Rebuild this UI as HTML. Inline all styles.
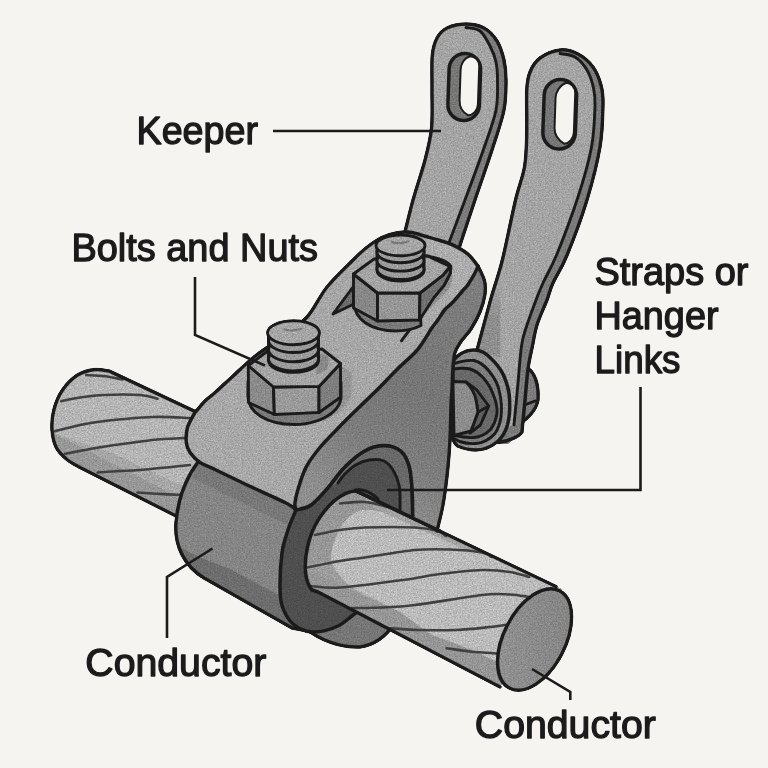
<!DOCTYPE html>
<html>
<head>
<meta charset="utf-8">
<title>Suspension Clamp</title>
<style>
  html, body { margin: 0; padding: 0; background: #f6f4f0; }
  body { width: 768px; height: 768px; overflow: hidden; font-family: "Liberation Sans", sans-serif; }
  svg { display: block; }
  .o { stroke: #1b1b1b; stroke-width: 3.5; stroke-linejoin: round; stroke-linecap: round; }
  .i { stroke: #1b1b1b; stroke-width: 2.9; stroke-linejoin: round; stroke-linecap: round; }
  .s { stroke: #404040; stroke-width: 2.6; stroke-linecap: round; }
  .lead { stroke: #1b1b1b; stroke-width: 2.6; fill: none; stroke-linejoin: miter; }
  text { font-family: "Liberation Sans", sans-serif; font-size: 38.5px; fill: #1b1b1b; stroke: #1b1b1b; stroke-width: 1.3; stroke-linejoin: round; }
</style>
</head>
<body>
<svg width="768" height="768" viewBox="0 0 768 768">
<rect width="768" height="768" fill="#f6f4f0"/>
<defs><filter id="grain" x="0" y="0" width="768" height="768" filterUnits="userSpaceOnUse" color-interpolation-filters="sRGB">
  <feTurbulence type="fractalNoise" baseFrequency="0.75" numOctaves="2" seed="11" result="t"/>
  <feColorMatrix in="t" type="matrix" values="0.5 0.5 0 0 0  0.5 0.5 0 0 0  0.5 0.5 0 0 0  0 0 0 0 1" result="n"/>
  <feComposite in="SourceGraphic" in2="n" operator="arithmetic" k1="0.7" k2="0.65" k3="0" k4="0" result="c"/>
  <feComposite in="c" in2="SourceAlpha" operator="in"/>
</filter></defs>
<g id="art" filter="url(#grain)">
<g id="strapL">
<path fill="#7c7c7c" d="M400.0,252.0 C402.2,243.3 408.8,215.3 413.0,200.0 C417.2,184.7 421.9,172.0 425.0,160.0 C428.1,148.0 430.3,139.7 431.5,128.0 C432.7,116.3 431.9,102.2 432.0,90.0 C432.1,77.8 431.5,63.7 432.3,55.0 C433.1,46.3 434.6,42.5 437.0,38.0 C439.4,33.5 442.2,30.3 447.0,28.0 C451.8,25.7 459.8,24.0 466.0,24.0 C472.2,24.0 478.8,25.2 484.0,28.0 C489.2,30.8 493.7,35.7 497.0,41.0 C500.3,46.3 502.5,53.5 504.0,60.0 C505.5,66.5 506.0,71.7 506.0,80.0 C506.0,88.3 506.2,98.8 504.0,110.0 C501.8,121.2 497.8,132.0 493.0,147.0 C488.2,162.0 480.2,184.5 475.0,200.0 C469.8,215.5 465.0,229.7 461.7,240.0 C458.4,250.3 456.1,258.3 455.0,262.0 Z"/>
<path fill="#a4a4a5" d="M400.0,252.0 C402.2,243.3 408.8,215.3 413.0,200.0 C417.2,184.7 421.9,172.0 425.0,160.0 C428.1,148.0 430.3,139.7 431.5,128.0 C432.7,116.3 431.9,102.2 432.0,90.0 C432.1,77.8 431.5,63.7 432.3,55.0 C433.1,46.3 434.6,42.5 437.0,38.0 C439.4,33.5 442.2,30.3 447.0,28.0 C451.8,25.7 462.8,24.7 466.0,24.0 C466.0,24.6 463.7,26.3 466.0,27.5 C468.3,28.7 476.0,27.9 480.0,31.0 C484.0,34.1 487.3,40.8 490.0,46.0 C492.7,51.2 494.8,56.3 496.0,62.0 C497.2,67.7 497.5,72.0 497.5,80.0 C497.5,88.0 498.2,98.7 496.0,110.0 C493.8,121.3 489.2,133.0 484.0,148.0 C478.8,163.0 470.7,184.7 465.0,200.0 C459.3,215.3 453.8,229.7 450.0,240.0 C446.2,250.3 443.3,258.3 442.0,262.0 Z"/>
<path class="i" fill="none" d="M466.0,27.5 C468.3,28.1 476.0,27.9 480.0,31.0 C484.0,34.1 487.3,40.8 490.0,46.0 C492.7,51.2 494.8,56.3 496.0,62.0 C497.2,67.7 497.5,72.0 497.5,80.0 C497.5,88.0 498.2,98.7 496.0,110.0 C493.8,121.3 489.2,133.0 484.0,148.0 C478.8,163.0 470.7,184.7 465.0,200.0 C459.3,215.3 453.8,229.7 450.0,240.0 C446.2,250.3 443.3,258.3 442.0,262.0"/>
<path class="o" fill="none" d="M400.0,252.0 C402.2,243.3 408.8,215.3 413.0,200.0 C417.2,184.7 421.9,172.0 425.0,160.0 C428.1,148.0 430.3,139.7 431.5,128.0 C432.7,116.3 431.9,102.2 432.0,90.0 C432.1,77.8 431.5,63.7 432.3,55.0 C433.1,46.3 434.6,42.5 437.0,38.0 C439.4,33.5 442.2,30.3 447.0,28.0 C451.8,25.7 459.8,24.0 466.0,24.0 C472.2,24.0 478.8,25.2 484.0,28.0 C489.2,30.8 493.7,35.7 497.0,41.0 C500.3,46.3 502.5,53.5 504.0,60.0 C505.5,66.5 506.0,71.7 506.0,80.0 C506.0,88.3 506.2,98.8 504.0,110.0 C501.8,121.2 497.8,132.0 493.0,147.0 C488.2,162.0 480.2,184.5 475.0,200.0 C469.8,215.5 465.0,229.7 461.7,240.0 C458.4,250.3 456.1,258.3 455.0,262.0"/>
<g transform="rotate(2 464 87)">
  <rect class="o" x="448.5" y="53.5" width="31.5" height="67" rx="15.7" fill="#777" stroke-width="3"/>
</g>
</g>
<g id="strapR">
<path class="o" fill="#7d7d7d" d="M527,368 C535,372 539,385 538,400 C536,412 526,421 511,429 L511,380 Z"/>
<path class="i" fill="none" d="M522,406 L535,401"/>
<path fill="#7c7c7c" d="M477.0,350.0 C479.2,341.7 487.1,312.2 490.5,300.0 C493.9,287.8 495.4,284.3 497.5,277.0 C499.6,269.7 500.3,268.8 503.3,256.0 C506.3,243.2 512.0,214.9 515.5,200.0 C519.0,185.1 522.6,177.9 524.5,166.7 C526.4,155.5 526.3,145.8 526.7,133.0 C527.1,120.2 526.2,100.2 526.7,90.0 C527.2,79.8 527.8,77.3 530.0,72.0 C532.2,66.7 535.0,61.7 540.0,58.0 C545.0,54.3 553.7,50.7 560.0,50.0 C566.3,49.3 572.5,51.2 578.0,54.0 C583.5,56.8 589.2,61.8 593.0,67.0 C596.8,72.2 599.3,78.8 601.0,85.0 C602.7,91.2 603.2,93.7 603.0,104.0 C602.8,114.3 602.7,131.0 600.0,147.0 C597.3,163.0 592.5,181.8 587.0,200.0 C581.5,218.2 572.4,242.2 566.7,256.0 C561.0,269.8 556.3,275.7 553.0,283.0 C549.7,290.3 549.7,293.0 547.0,300.0 C544.3,307.0 539.4,317.3 537.0,325.0 C534.6,332.7 534.0,338.7 532.5,346.0 C531.0,353.3 529.2,360.0 528.0,369.0 C526.8,378.0 526.0,389.5 525.0,400.0 C524.0,410.5 522.5,426.7 522.0,432.0 L508,444 L470,440 Z"/>
<path fill="#a4a4a5" d="M477.0,350.0 C479.2,341.7 487.1,312.2 490.5,300.0 C493.9,287.8 495.4,284.3 497.5,277.0 C499.6,269.7 500.3,268.8 503.3,256.0 C506.3,243.2 512.0,214.9 515.5,200.0 C519.0,185.1 522.6,177.9 524.5,166.7 C526.4,155.5 526.3,145.8 526.7,133.0 C527.1,120.2 526.2,100.2 526.7,90.0 C527.2,79.8 527.8,77.3 530.0,72.0 C532.2,66.7 535.0,61.7 540.0,58.0 C545.0,54.3 556.7,51.3 560.0,50.0 C560.0,50.6 557.5,52.3 560.0,53.5 C562.5,54.7 570.5,54.2 575.0,57.0 C579.5,59.8 583.9,64.8 587.0,70.0 C590.1,75.2 592.2,82.0 593.5,88.0 C594.8,94.0 595.3,96.2 595.0,106.0 C594.7,115.8 594.3,131.8 591.5,147.0 C588.7,162.2 583.8,179.2 578.0,197.0 C572.2,214.8 562.8,239.7 557.0,254.0 C551.2,268.3 546.5,275.3 543.0,283.0 C539.5,290.7 538.8,292.5 536.0,300.0 C533.2,307.5 528.4,320.3 526.0,328.0 C523.6,335.7 522.8,336.8 521.5,346.0 C520.2,355.2 519.2,369.8 518.0,383.0 C516.8,396.2 514.7,418.0 514.0,425.0 L470,440 Z"/>
<defs><linearGradient id="stripG" x1="0" y1="280" x2="0" y2="318" gradientUnits="userSpaceOnUse"><stop offset="0" stop-color="#8e8e8e" stop-opacity="0"/><stop offset="1" stop-color="#8e8e8e" stop-opacity="1"/></linearGradient></defs>
<path fill="url(#stripG)" d="M496,280 L500,280 L500.5,358 L477,350 L490.5,300 Z"/>
<path class="i" fill="none" d="M560.0,53.5 C562.5,54.1 570.5,54.2 575.0,57.0 C579.5,59.8 583.9,64.8 587.0,70.0 C590.1,75.2 592.2,82.0 593.5,88.0 C594.8,94.0 595.3,96.2 595.0,106.0 C594.7,115.8 594.3,131.8 591.5,147.0 C588.7,162.2 583.8,179.2 578.0,197.0 C572.2,214.8 562.8,239.7 557.0,254.0 C551.2,268.3 546.5,275.3 543.0,283.0 C539.5,290.7 538.8,292.5 536.0,300.0 C533.2,307.5 528.4,320.3 526.0,328.0 C523.6,335.7 522.8,336.8 521.5,346.0 C520.2,355.2 519.2,369.8 518.0,383.0 C516.8,396.2 514.7,418.0 514.0,425.0"/>
<path class="o" fill="none" d="M477.0,350.0 C479.2,341.7 487.1,312.2 490.5,300.0 C493.9,287.8 495.4,284.3 497.5,277.0 C499.6,269.7 500.3,268.8 503.3,256.0 C506.3,243.2 512.0,214.9 515.5,200.0 C519.0,185.1 522.6,177.9 524.5,166.7 C526.4,155.5 526.3,145.8 526.7,133.0 C527.1,120.2 526.2,100.2 526.7,90.0 C527.2,79.8 527.8,77.3 530.0,72.0 C532.2,66.7 535.0,61.7 540.0,58.0 C545.0,54.3 553.7,50.7 560.0,50.0 C566.3,49.3 572.5,51.2 578.0,54.0 C583.5,56.8 589.2,61.8 593.0,67.0 C596.8,72.2 599.3,78.8 601.0,85.0 C602.7,91.2 603.2,93.7 603.0,104.0 C602.8,114.3 602.7,131.0 600.0,147.0 C597.3,163.0 592.5,181.8 587.0,200.0 C581.5,218.2 572.4,242.2 566.7,256.0 C561.0,269.8 556.3,275.7 553.0,283.0 C549.7,290.3 549.7,293.0 547.0,300.0 C544.3,307.0 539.4,317.3 537.0,325.0 C534.6,332.7 534.0,338.7 532.5,346.0 C531.0,353.3 529.2,360.0 528.0,369.0 C526.8,378.0 526.0,389.5 525.0,400.0 C524.0,410.5 522.5,426.7 522.0,432.0 C520,436 510,441 498.5,442.5"/>
<g transform="rotate(2 560 114)">
  <rect class="o" x="543.5" y="79.5" width="32.5" height="69.5" rx="16.2" fill="#777" stroke-width="3"/>
</g>
</g>
<g id="pin">
  <path class="o" fill="#8f8f8f" d="M452,364 C455,356 464,350 474,350 C482,350 487,354 491,358.5 C497,364 501,370 503.5,375 C507,383 509.5,392 509.6,400 C510,410 509.5,418 507.5,425 C505,433 502,438 497,442 C491,447 484,450 476,450 C468,450 462,448 457.5,446 C454,443 452,439 451,433 Z"/>
  <path class="i" fill="#7c7c7c" stroke-width="2.5" d="M453,364 C461,361 468,360 474,360.5 C480,362 485,366 489,371 C494,377 498,384 499.5,392 C501.5,401 502,409 501,417 C500,424 498,429 495,433.5 C490,439 484,443 476,443.5 C469,444 464,443 459.5,441.5 L453,438 Z"/>
  <path class="i" fill="#696969" stroke-width="2.5" d="M453,369 C460,368 466,368 470,369 C475,370.5 479,373.5 482.5,377 C487,382 491,388 493,394 C496,401 497.5,407 497,413 C496,420 494,425 490.5,429.5 C486,434 481,437 474,437.5 C467,438 461,437 455,435.5 Z"/>
  <path class="i" fill="#5f5f5f" d="M466,382 L476.5,389.6 L488.75,406 L480.4,425 L470,433 L471,431 L478,412 L476,400 Z"/>
  <path class="i" fill="#8c8c8c" d="M453,381.5 L466,382 C472,388 475,394 476,400 L478,412 L471,431 L454,435.5 Z"/>
  <path class="i" fill="none" d="M478,412 L488,406.5"/>
</g>
<g id="condL">
<defs><clipPath id="cL"><path d="M195,411.3 L110,371.3 C107.5,371.0 100.4,368.9 95.0,369.5 C89.6,370.1 82.9,371.6 77.5,375.0 C72.1,378.4 66.5,384.2 62.5,390.0 C58.5,395.8 55.5,403.3 53.8,410.0 C52.0,416.7 51.6,423.8 52.0,430.0 C52.4,436.2 53.7,442.5 56.2,447.5 C58.8,452.5 63.5,456.7 67.5,460.0 C71.5,463.3 77.9,466.2 80.0,467.5 L176.3,516.3 L190,522 L215,420 Z"/></clipPath></defs>
<path fill="#b5b5b5" d="M195,411.3 L110,371.3 C107.5,371.0 100.4,368.9 95.0,369.5 C89.6,370.1 82.9,371.6 77.5,375.0 C72.1,378.4 66.5,384.2 62.5,390.0 C58.5,395.8 55.5,403.3 53.8,410.0 C52.0,416.7 51.6,423.8 52.0,430.0 C52.4,436.2 53.7,442.5 56.2,447.5 C58.8,452.5 63.5,456.7 67.5,460.0 C71.5,463.3 77.9,466.2 80.0,467.5 L176.3,516.3 L190,522 L215,420 Z"/>
<g clip-path="url(#cL)">
<path fill="#979797" d="M40,425 L55,433.75 L180,497.5 L200,500 L200,540 L40,480 Z"/>
<path fill="#a6a6a6" d="M55,433.75 L180,497.5 L186,488 L110,452 Z"/>
<path class="s" fill="none" d="M86.2,375.0 C89.4,375.2 99.0,375.5 105.0,376.2 C111.0,377.0 119.6,379.0 122.5,379.5"/>
<path class="s" fill="none" d="M61.2,401.2 C64.4,400.6 73.1,398.5 80.0,397.5 C86.9,396.5 92.5,395.4 102.5,395.0 C112.5,394.6 130.8,394.4 140.0,395.0 C149.2,395.6 154.6,398.1 157.5,398.8"/>
<path class="s" fill="none" d="M55.0,431.2 C59.2,430.2 72.1,426.7 80.0,425.0 C87.9,423.3 90.4,422.6 102.5,421.2 C114.6,419.9 137.9,417.5 152.5,417.0 C167.1,416.5 183.8,417.8 190.0,418.0"/>
<path class="s" fill="none" d="M65.0,453.8 C69.2,453.0 81.7,450.5 90.0,449.0 C98.3,447.5 104.6,446.5 115.0,445.0 C125.4,443.5 140.8,441.2 152.5,440.0 C164.2,438.8 179.6,438.3 185.0,438.0"/>
<path class="s" fill="none" d="M97.5,472.5 C101.2,472.2 112.9,471.4 120.0,471.0 C127.1,470.6 128.3,471.0 140.0,470.0 C151.7,469.0 181.7,465.8 190.0,465.0"/>
<path class="s" fill="none" d="M137.5,492.5 C141.2,492.8 152.6,493.6 160.0,494.0 C167.4,494.4 178.3,494.8 182.0,495.0"/>
</g>
<path class="o" fill="none" d="M197,412.3 L110,371.3 C107.5,371.0 100.4,368.9 95.0,369.5 C89.6,370.1 82.9,371.6 77.5,375.0 C72.1,378.4 66.5,384.2 62.5,390.0 C58.5,395.8 55.5,403.3 53.8,410.0 C52.0,416.7 51.6,423.8 52.0,430.0 C52.4,436.2 53.7,442.5 56.2,447.5 C58.8,452.5 63.5,456.7 67.5,460.0 C71.5,463.3 77.9,466.2 80.0,467.5 L178,517"/>
</g>
<path class="o" fill="#767676" d="M305,628 C320,640 340,648 360,647 C375,645 386,636 394,624 L360,596 Z"/>
<g id="body">
  <path fill="#858585" d="M198,462 C186,478 178,500 176,522 C174,545 184,566 204,578 L292,628 L312,632 L300,510 Z"/>
  <path fill="#787878" d="M198,462 L300,508 L298,530 L192,478 Z"/>
  <path fill="#6d6d6d" d="M178,545 C195,558 215,562 232,570 L292,602 L300,630 L292,628 L204,578 C190,570 182,558 178,545 Z"/>
  <path class="o" fill="none" d="M198,462 C186,478 178,500 176,522 C174,545 184,566 204,578 L292,628 L312,632"/>
</g>
<g id="ring">
<path fill="#4f4f4f" d="M296.0,510.0 C298.5,509.2 305.7,508.7 311.0,505.0 C316.3,501.3 322.1,494.2 327.7,488.0 C333.2,481.8 338.1,473.7 344.3,467.5 C350.5,461.3 358.4,454.4 365.0,450.8 C371.6,447.2 378.1,445.6 384.0,445.6 C389.9,445.6 396.4,447.5 400.6,450.8 C404.8,454.1 407.1,459.2 409.0,465.4 C410.9,471.6 411.4,479.6 412.0,488.0 C412.6,496.4 412.6,511.3 412.7,516.0 C410.6,526.7 409.3,564.0 400.0,580.0 C390.7,596.0 367.5,604.2 357.0,612.0 C346.5,619.8 344.5,623.2 337.0,626.5 C329.5,629.8 319.3,632.4 312.0,632.0 C304.7,631.6 297.9,628.2 293.0,624.0 C288.1,619.8 284.7,613.0 282.5,607.0 C280.3,601.0 280.1,597.0 280.0,588.0 C279.9,579.0 280.7,562.7 282.0,553.0 C283.3,543.3 285.7,537.2 288.0,530.0 C290.3,522.8 294.7,513.3 296.0,510.0 Z"/>
<path fill="#696969" d="M327.7,488.0 C330.5,484.6 338.1,473.7 344.3,467.5 C350.5,461.3 358.4,454.4 365.0,450.8 C371.6,447.2 378.1,445.6 384.0,445.6 C389.9,445.6 396.4,447.5 400.6,450.8 C404.8,454.1 407.1,459.2 409.0,465.4 C410.9,471.6 411.4,479.6 412.0,488.0 C412.6,496.4 412.6,511.3 412.7,516.0 L400,511 C399.9,507.2 400.5,494.6 399.5,488.0 C398.5,481.4 396.6,476.2 394.0,471.7 C391.4,467.2 388.2,462.9 384.0,461.0 C379.8,459.1 373.9,459.3 369.0,460.0 C364.1,460.7 358.9,462.9 354.8,465.4 C350.6,467.9 346.8,472.1 344.0,475.0 C341.2,477.9 339.0,481.7 338.0,483.0 Z"/>
<path class="i" fill="none" d="M338.0,483.0 C339.0,481.7 341.2,477.9 344.0,475.0 C346.8,472.1 350.6,467.9 354.8,465.4 C358.9,462.9 364.1,460.7 369.0,460.0 C373.9,459.3 379.8,459.1 384.0,461.0 C388.2,462.9 391.4,467.2 394.0,471.7 C396.6,476.2 398.5,481.4 399.5,488.0 C400.5,494.6 399.9,507.2 400.0,511.0"/>
<path class="i" fill="none" d="M355,490 C362,489 370,491 378,499" stroke-width="2.2"/>
<path class="o" fill="none" d="M400.0,580.0 C392.8,585.3 367.5,604.2 357.0,612.0 C346.5,619.8 344.5,623.2 337.0,626.5 C329.5,629.8 319.3,632.4 312.0,632.0 C304.7,631.6 297.9,628.2 293.0,624.0 C288.1,619.8 284.7,613.0 282.5,607.0 C280.3,601.0 280.1,597.0 280.0,588.0 C279.9,579.0 280.7,562.7 282.0,553.0 C283.3,543.3 285.7,537.2 288.0,530.0 C290.3,522.8 294.7,513.3 296.0,510.0"/>
<path class="o" fill="none" d="M296.0,510.0 C298.5,509.2 305.7,508.7 311.0,505.0 C316.3,501.3 322.1,494.2 327.7,488.0 C333.2,481.8 338.1,473.7 344.3,467.5 C350.5,461.3 358.4,454.4 365.0,450.8 C371.6,447.2 378.1,445.6 384.0,445.6 C389.9,445.6 396.4,447.5 400.6,450.8 C404.8,454.1 407.1,459.2 409.0,465.4 C410.9,471.6 411.4,479.6 412.0,488.0 C412.6,496.4 412.6,511.3 412.7,516.0"/>
</g>
<g id="condR">
<defs><clipPath id="cR"><path d="M356,491 C348,491 340,496 334,501 C322,512 312,528 308,545 C303,565 305,582 312,590 L318,592 L500,687 L562,589 Z"/></clipPath>
<linearGradient id="capG" x1="1" y1="0" x2="0" y2="1"><stop offset="0" stop-color="#828282"/><stop offset="1" stop-color="#939393"/></linearGradient></defs>
<path fill="#bbbbbb" d="M356,491 C348,491 340,496 334,501 C322,512 312,528 308,545 C303,565 305,582 312,590 L318,592 L500,687 L562,589 Z"/>
<g clip-path="url(#cR)">
  <path fill="#979797" d="M300,480 L370,480 L440,530 L420,530 C400,518 380,508 362,510 C345,514 334,535 331,555 C330,575 338,588 350,598 L300,600 Z"/>
  <path fill="#a2a2a2" d="M356,489 L480,548 L470,552 L372,507 Z"/>
  <path fill="#969696" d="M300,566 L400,612 L430,634 L470,649 L497,662 L515,700 L300,600 Z"/>
  <path fill="#9d9d9d" d="M330,560 C340,580 352,590 372,598 L400,612 L300,566 Z"/>
  <path class="s" fill="none" d="M340.0,503.5 C344.2,503.2 356.7,501.3 365.0,502.0 C373.3,502.7 385.8,506.6 390.0,507.5"/>
  <path class="s" fill="none" d="M315.0,535.0 C319.2,534.2 331.7,531.2 340.0,530.0 C348.3,528.8 352.5,527.9 365.0,527.5 C377.5,527.1 402.9,526.9 415.0,527.5 C427.1,528.1 432.3,529.6 437.5,531.0 C442.7,532.4 444.6,535.2 446.0,536.0"/>
  <path class="s" fill="none" d="M307.5,567.5 C312.9,566.4 330.4,562.7 340.0,561.0 C349.6,559.3 352.5,559.3 365.0,557.5 C377.5,555.7 400.8,551.3 415.0,550.0 C429.2,548.7 438.8,549.1 450.0,549.5 C461.2,549.9 475.0,551.2 482.0,552.5 C489.0,553.8 490.3,556.2 492.0,557.0"/>
  <path class="s" fill="none" d="M310.0,586.0 C315.0,586.2 324.6,588.5 340.0,587.5 C355.4,586.5 385.8,582.2 402.5,580.0 C419.2,577.8 426.8,575.7 440.0,574.0 C453.2,572.3 470.3,570.3 482.0,570.0 C493.7,569.7 502.2,570.8 510.0,572.0 C517.8,573.2 525.8,576.2 529.0,577.0"/>
  <path class="s" fill="none" d="M352.0,608.0 C356.7,607.9 369.5,608.0 380.0,607.5 C390.5,607.0 398.0,607.1 415.0,605.0 C432.0,602.9 466.2,596.8 482.0,595.0 C497.8,593.2 502.2,594.2 510.0,594.5 C517.8,594.8 525.8,596.6 529.0,597.0"/>
  <path class="s" fill="none" d="M390.0,628.3 C395.0,628.6 408.9,629.7 420.0,630.0 C431.1,630.3 445.0,630.5 456.7,630.0 C468.4,629.5 481.3,627.9 490.0,627.0 C498.7,626.1 505.8,624.9 509.0,624.5"/>
  <path class="s" fill="none" d="M446.7,648.3 C450.6,648.8 461.6,650.6 470.0,651.5 C478.4,652.4 492.5,653.2 497.0,653.5"/>
</g>
<path class="o" fill="none" d="M312,590 C305,582 303,565 308,545 C312,528 322,512 334,501 C340,496 348,491 356,491 L556,586.5 M312,590 L318,592 L500,687"/>
<ellipse class="o" cx="534.6" cy="639.5" rx="30.8" ry="54.7" transform="rotate(27 534.6 639.5)" fill="url(#capG)"/>
</g>
<g id="keeper">
<defs>
  <linearGradient id="sideG" x1="470" y1="270" x2="350" y2="500" gradientUnits="userSpaceOnUse">
    <stop offset="0" stop-color="#7e7e7e"/><stop offset="0.5" stop-color="#767676"/><stop offset="0.75" stop-color="#7c7c7c"/><stop offset="1" stop-color="#8d8d8d"/>
  </linearGradient>
  <linearGradient id="topG" x1="230" y1="420" x2="470" y2="300" gradientUnits="userSpaceOnUse">
    <stop offset="0" stop-color="#a8a8a8"/><stop offset="0.75" stop-color="#a6a6a6"/><stop offset="1" stop-color="#adadad"/>
  </linearGradient>
</defs>
<path fill="url(#sideG)" d="M478.0,266.0 C479.1,268.5 483.5,276.3 484.6,281.2 C485.7,286.1 485.6,290.4 484.8,295.5 C484.0,300.6 482.3,306.4 480.0,312.0 C477.7,317.6 474.2,324.0 471.0,329.0 C467.8,334.0 463.4,338.1 460.7,342.0 C458.0,345.9 456.3,348.2 455.0,352.5 C453.7,356.8 453.5,361.8 453.0,368.0 C452.5,374.2 452.3,383.8 452.0,390.0 C451.7,396.2 451.3,396.7 451.0,405.0 C450.7,413.3 450.6,428.8 450.0,440.0 C449.4,451.2 448.7,461.2 447.5,472.0 C446.3,482.8 444.8,495.2 443.0,505.0 C441.2,514.8 438.0,526.7 437.0,531.0 L412.7,518 C412.6,511.3 412.6,496.4 412.0,488.0 C411.4,479.6 410.9,471.6 409.0,465.4 C407.1,459.2 404.8,454.1 400.6,450.8 C396.4,447.5 389.9,445.6 384.0,445.6 C378.1,445.6 371.6,447.2 365.0,450.8 C358.4,454.4 350.5,461.3 344.3,467.5 C338.1,473.7 333.2,481.8 327.7,488.0 C322.1,494.2 316.3,501.3 311.0,505.0 C305.7,508.7 298.5,509.2 296.0,510.0 C295.8,508.8 294.5,507.0 295.0,503.0 C295.5,499.0 297.1,492.1 299.0,486.0 C300.9,479.9 303.1,472.7 306.5,466.4 C309.9,460.1 314.1,454.5 319.5,448.0 C324.9,441.5 332.5,434.0 339.0,427.3 C345.5,420.6 351.9,414.4 358.6,407.8 C365.3,401.2 372.6,394.4 379.0,388.0 C385.4,381.6 391.0,375.3 397.0,369.4 C403.0,363.5 410.7,357.1 415.0,352.5 C419.3,347.9 420.2,346.1 423.0,342.0 C425.8,337.9 429.5,331.5 432.0,327.8 C434.5,324.1 435.6,323.1 437.8,320.0 C440.0,316.9 442.6,312.3 445.0,309.5 C447.4,306.7 448.9,306.2 452.0,303.0 C455.1,299.8 460.7,293.0 463.3,290.0 C465.9,287.0 465.7,288.0 467.7,285.0 C469.7,282.0 473.8,275.2 475.5,272.0 C477.2,268.8 477.6,267.0 478.0,266.0 Z"/>
<path class="o" fill="none" d="M478.0,266.0 C479.1,268.5 483.5,276.3 484.6,281.2 C485.7,286.1 485.6,290.4 484.8,295.5 C484.0,300.6 482.3,306.4 480.0,312.0 C477.7,317.6 474.2,324.0 471.0,329.0 C467.8,334.0 463.4,338.1 460.7,342.0 C458.0,345.9 456.3,348.2 455.0,352.5 C453.7,356.8 453.5,361.8 453.0,368.0 C452.5,374.2 452.3,383.8 452.0,390.0 C451.7,396.2 451.3,396.7 451.0,405.0 C450.7,413.3 450.6,428.8 450.0,440.0 C449.4,451.2 448.7,461.2 447.5,472.0 C446.3,482.8 444.8,495.2 443.0,505.0 C441.2,514.8 438.0,526.7 437.0,531.0"/>
<path class="o" fill="url(#topG)" d="M195.0,412.5 C196.7,410.6 201.7,404.3 205.0,401.0 C208.3,397.7 210.5,396.5 215.0,392.5 C219.5,388.5 225.5,382.9 232.0,377.0 C238.5,371.1 245.7,363.7 254.0,357.0 C262.3,350.3 273.2,343.7 282.0,337.0 C290.8,330.3 299.5,325.3 307.0,317.0 C314.5,308.7 319.3,296.5 327.0,287.0 C334.7,277.5 346.5,266.5 353.0,260.0 C359.5,253.5 361.2,251.8 366.0,248.0 C370.8,244.2 376.7,240.0 381.7,237.5 C386.7,235.0 391.3,233.9 396.0,233.0 C400.7,232.1 405.0,231.7 410.0,232.3 C415.0,232.9 421.0,235.1 426.0,236.5 C431.0,237.9 435.7,239.1 440.0,240.5 C444.3,241.9 447.4,242.5 452.0,244.7 C456.6,246.9 463.4,250.3 467.7,253.9 C472.0,257.4 476.3,264.0 478.0,266.0 C477.6,267.0 477.2,268.8 475.5,272.0 C473.8,275.2 469.7,282.0 467.7,285.0 C465.7,288.0 465.9,287.0 463.3,290.0 C460.7,293.0 455.1,299.8 452.0,303.0 C448.9,306.2 447.4,306.7 445.0,309.5 C442.6,312.3 440.0,316.9 437.8,320.0 C435.6,323.1 434.5,324.1 432.0,327.8 C429.5,331.5 425.8,337.9 423.0,342.0 C420.2,346.1 419.3,347.9 415.0,352.5 C410.7,357.1 403.0,363.5 397.0,369.4 C391.0,375.3 385.4,381.6 379.0,388.0 C372.6,394.4 365.3,401.2 358.6,407.8 C351.9,414.4 345.5,420.6 339.0,427.3 C332.5,434.0 324.9,441.5 319.5,448.0 C314.1,454.5 309.9,460.1 306.5,466.4 C303.1,472.7 300.9,479.9 299.0,486.0 C297.1,492.1 295.5,499.0 295.0,503.0 C294.5,507.0 295.8,508.8 296.0,510.0 C294.3,508.8 294.5,507.3 286.0,503.0 C277.5,498.7 256.8,489.6 245.0,484.0 C233.2,478.4 222.5,473.1 215.0,469.5 C207.5,465.9 204.2,465.3 200.0,462.5 C195.8,459.7 192.3,455.8 190.0,452.5 C187.7,449.2 186.7,446.7 186.3,442.5 C185.9,438.3 186.1,432.5 187.5,427.5 C188.9,422.5 193.8,415.0 195.0,412.5 Z"/>
<path fill="#8f8f8f" d="M450.5,271 C454,276 453,282 448,290 C442,297 434,304 426,312 L423,310.8 C432,300 440,290 444,285 C448,278 450,275 450.5,271 Z"/>
<path class="i" fill="#6b6b6b" d="M333,314 L353,287 L354,304 Z"/>
<path class="i" fill="none" d="M426.0,255.8 C428.2,256.3 435.5,257.9 439.0,259.0 C442.5,260.1 445.0,261.2 447.0,262.5 C449.0,263.8 450.3,264.8 450.8,266.5 C451.3,268.2 451.1,269.4 450.0,272.5 C448.9,275.6 446.7,280.9 444.0,285.0 C441.3,289.1 437.5,292.7 434.0,297.0 C430.5,301.3 426.8,305.7 423.0,310.8 C419.2,315.9 414.6,322.8 411.0,327.8 C407.4,332.8 403.1,338.6 401.5,340.8"/>
</g>
<path class="o" fill="none" d="M296.0,510.0 C298.5,509.2 305.7,508.7 311.0,505.0 C316.3,501.3 322.1,494.2 327.7,488.0 C333.2,481.8 338.1,473.7 344.3,467.5 C350.5,461.3 358.4,454.4 365.0,450.8 C371.6,447.2 378.1,445.6 384.0,445.6 C389.9,445.6 396.4,447.5 400.6,450.8 C404.8,454.1 407.1,459.2 409.0,465.4 C410.9,471.6 411.4,479.6 412.0,488.0 C412.6,496.4 412.6,511.3 412.7,516.0"/>
<path class="o" fill="none" d="M356,491 L440,531.2"/>
<g id="nut2">
<path class="i" fill="#7a7a7a" d="M354,302 C354,320 372,331 396,331 C406,331 414,329 421,325.5 L420,300 L354,288 Z"/>
<path class="i" fill="#878787" d="M353.5,274 L377.5,293 L377.5,321 L353.5,308 Z"/>
<path class="i" fill="#969696" d="M377.5,293 L420,293 L419.5,320 L377.5,321 Z"/>
<path class="i" fill="#707070" d="M420,293 L443,275.2 L450,266.5 L450.5,273 L444,285.5 L434,297.5 L419.5,320 Z"/>
<path class="i" fill="#a4a4a4" d="M353.5,274 L374,259 L427.5,256 L450,266.5 L443,275.2 L420,293 L377.5,293 Z"/>
<path class="i" fill="#8f8f8f" d="M377.0,245.4 L377.0,270.6 A23.5,10.4 0 0 0 424.0,270.6 L424.0,245.4 Z"/>
<ellipse class="i" cx="400.5" cy="269.1" rx="23.5" ry="10.4" fill="#9b9b9b" stroke-width="2.2"/>
<ellipse class="i" cx="400.5" cy="260.7" rx="23.5" ry="10.4" fill="#9b9b9b" stroke-width="2.2"/>
<ellipse class="i" cx="400.5" cy="252.3" rx="23.5" ry="10.4" fill="#9b9b9b" stroke-width="2.2"/>
<ellipse class="i" cx="400.5" cy="245.4" rx="24.5" ry="10.4" fill="#a6a6a6"/>
<path d="M408.5,241.4 C402.5,243.4 395.5,243.4 391.5,241.9" fill="none" stroke="#7a7a7a" stroke-width="2.2" stroke-linecap="round"/>
</g>
<g id="nut1">
<path fill="#949494" d="M341,366 L352,373 L351,397 L341,411 L323,422 L320,414 L341,398 Z"/>
<path class="i" fill="#7a7a7a" d="M247.9,396 C248,412 266,424.5 294.4,424.5 C318,424.5 338,414 341,398.7 L341,382 L248,382 Z"/>
<path class="i" fill="#8a8a8a" d="M248.3,365.5 L273.5,387 L274.4,414.5 L248.5,402.5 Z"/>
<path class="i" fill="#9a9a9a" d="M273.5,387 L319,386.5 L319,412.5 L274.4,414.5 Z"/>
<path class="i" fill="#7e7e7e" d="M319,386.5 L340.5,363.5 L340.5,397.3 L319,412.5 Z"/>
<path class="i" fill="#a4a4a4" d="M248.3,365.5 L269,350 L322,349 L340.5,363.5 L319,386.5 L273.5,387 Z"/>
<path fill="#888888" d="M318,353 L327,355 C330,360 329,366 326,370 L316,375 Z"/>
<path class="i" fill="#8f8f8f" d="M268.5,332.8 L268.5,360.40000000000003 A25,12 0 0 0 318.5,360.40000000000003 L318.5,332.8 Z"/>
<ellipse class="i" cx="293.5" cy="358.9" rx="25" ry="12" fill="#9b9b9b" stroke-width="2.2"/>
<ellipse class="i" cx="293.5" cy="349.7" rx="25" ry="12" fill="#9b9b9b" stroke-width="2.2"/>
<ellipse class="i" cx="293.5" cy="340.5" rx="25" ry="12" fill="#9b9b9b" stroke-width="2.2"/>
<ellipse class="i" cx="293.5" cy="332.8" rx="26" ry="12" fill="#a6a6a6"/>
<path d="M301.5,328.8 C295.5,330.8 288.5,330.8 284.5,329.3" fill="none" stroke="#7a7a7a" stroke-width="2.2" stroke-linecap="round"/>
</g>
</g>
<g transform="rotate(2 464 87)"><path d="M469,56 C474,56 478.5,60 478.5,66 L478.5,104 C478.5,110 474,115 469,115 C463,112 460,106 460,100 L460,70 C460,64 463,58 469,56 Z" fill="#f6f4f0" stroke="#1b1b1b" stroke-width="2"/></g>
<g transform="rotate(2 560 114)"><path d="M565,82.5 C570,82.5 574.5,87 574.5,93 L574.5,132 C574.5,138 570,143.5 565,143.5 C559,140 555,134 555,128 L555,98 C555,92 559,85 565,82.5 Z" fill="#f6f4f0" stroke="#1b1b1b" stroke-width="2"/></g>
<g id="leaders">
  <path class="lead" d="M273,131 L441,131"/>
  <path class="lead" d="M195,277 L195,335 L265,365.5"/>
  <path class="lead" d="M640.5,387 L640.5,490 L387,490"/>
  <path class="lead" d="M167,638 L167,577 L212.5,548.5"/>
  <path class="lead" d="M532,669 L570.3,692 L570.3,700"/>
</g>
<g id="labels">
  <text x="136.5" y="144.2" textLength="121.5" lengthAdjust="spacingAndGlyphs">Keeper</text>
  <text x="71.5" y="260.8" textLength="246.5" lengthAdjust="spacingAndGlyphs">Bolts and Nuts</text>
  <text x="594.5" y="285.3" textLength="154" lengthAdjust="spacingAndGlyphs">Straps or</text>
  <text x="594.5" y="329.3" textLength="124" lengthAdjust="spacingAndGlyphs">Hanger</text>
  <text x="594.5" y="373" textLength="86" lengthAdjust="spacingAndGlyphs">Links</text>
  <text x="85.3" y="676.3" textLength="181" lengthAdjust="spacingAndGlyphs">Conductor</text>
  <text x="474.8" y="738.2" textLength="181" lengthAdjust="spacingAndGlyphs">Conductor</text>
</g>
</svg>
</body>
</html>
